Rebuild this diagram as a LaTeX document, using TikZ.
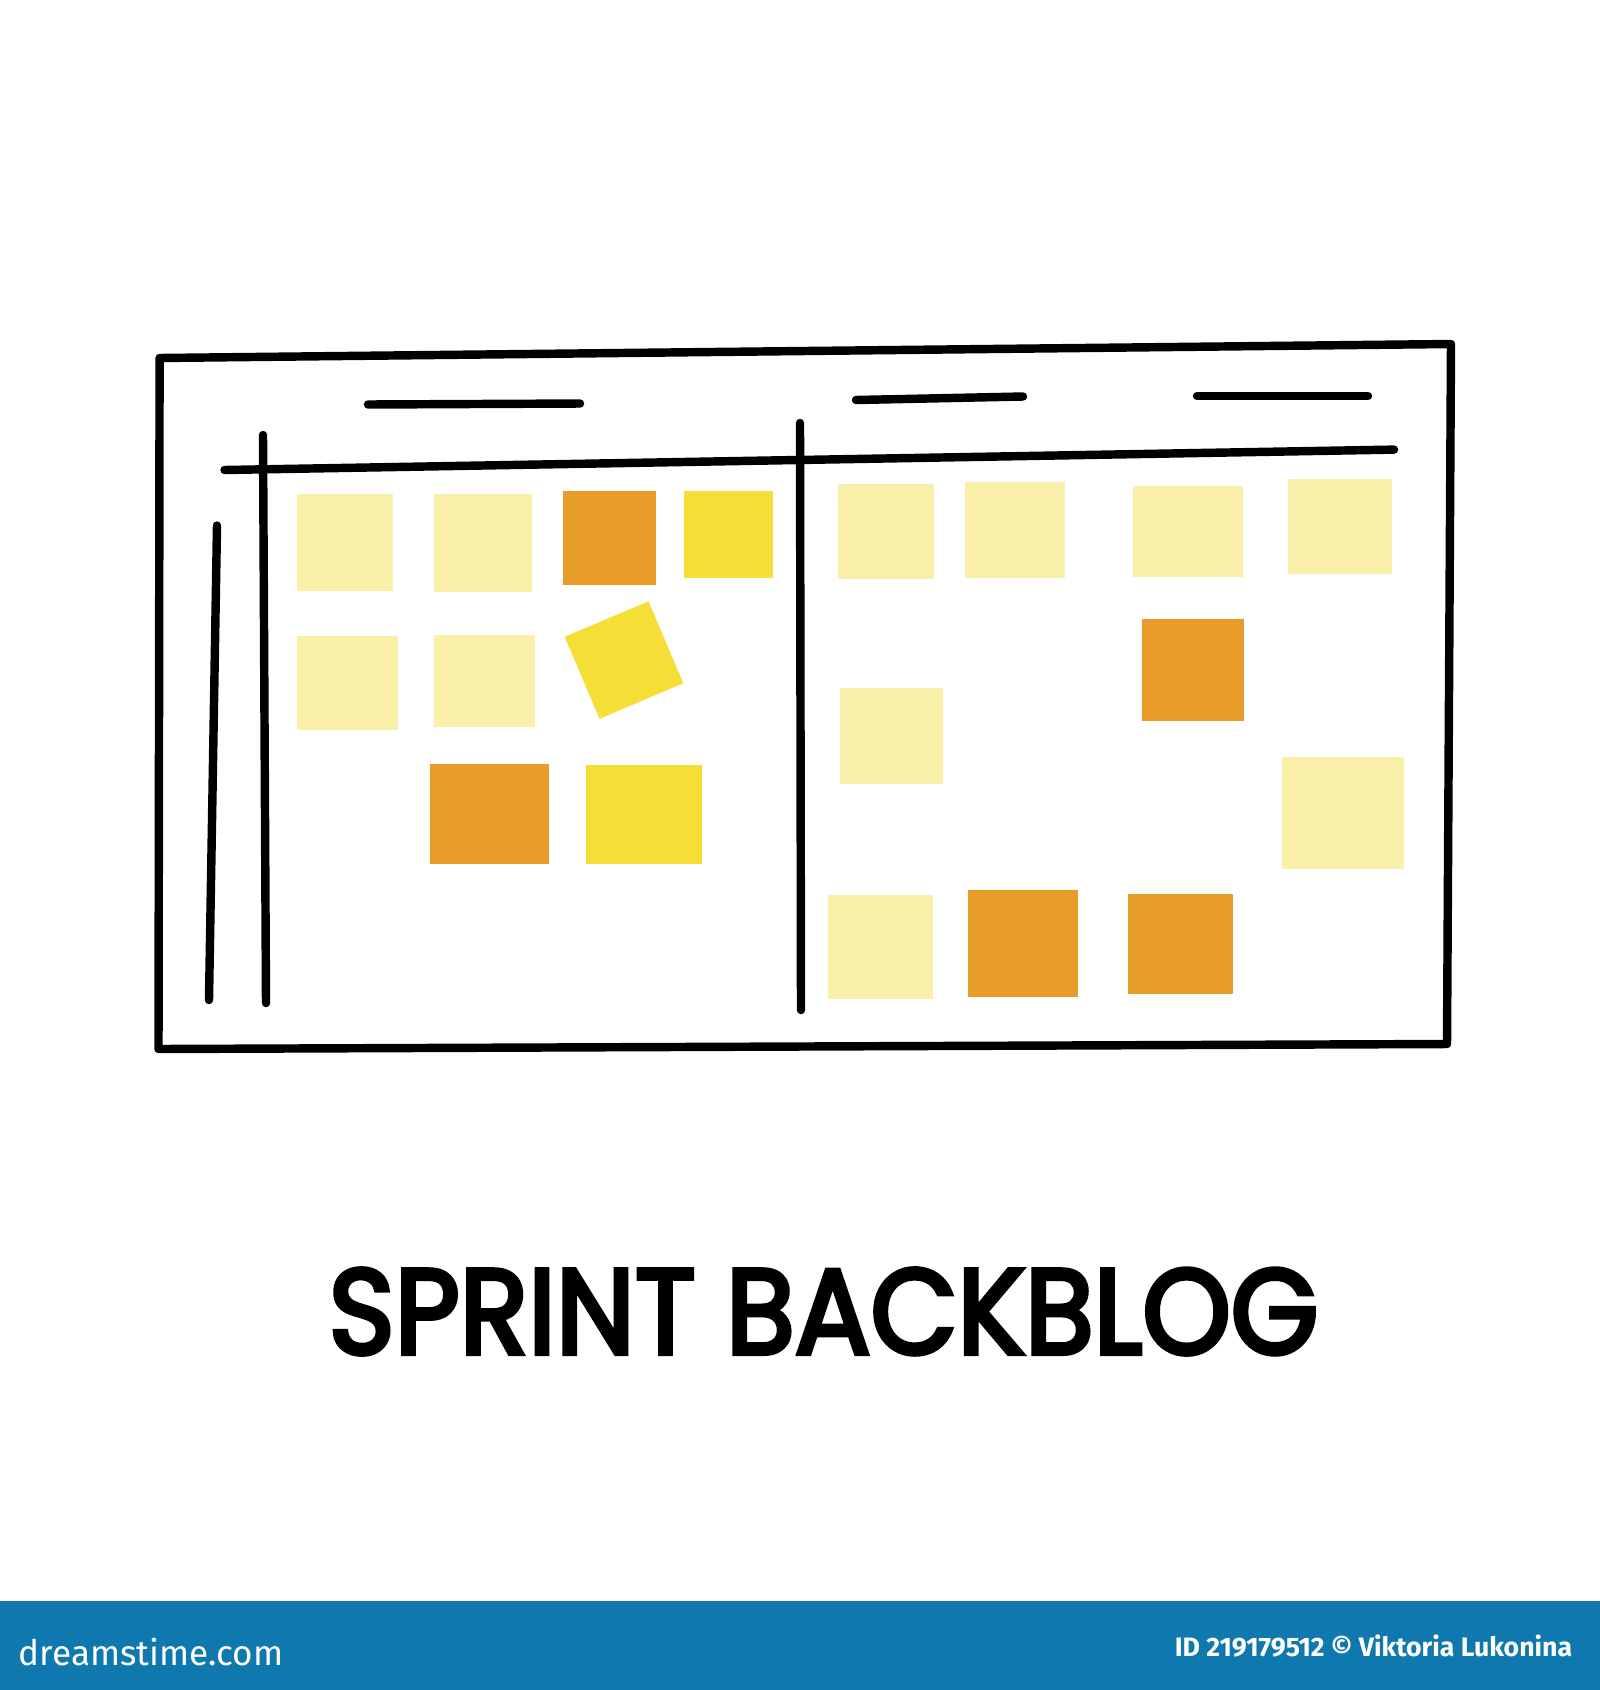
\documentclass[tikz,border=0pt]{standalone}
\usepackage{fontspec}
\setsansfont{Poppins}
\newfontfamily\titlefont{Poppins}[FakeBold=4]
\newfontfamily\barfont{Fira Sans}
\usetikzlibrary{positioning}
\definecolor{pale}{HTML}{FAF0A9}
\definecolor{amber}{HTML}{E89C2A}
\definecolor{lemon}{HTML}{F5DE35}
\definecolor{barblue}{HTML}{0F78AF}

\begin{document}
\begin{tikzpicture}[x=0.01cm,y=-0.01cm,
    pen/.style={line width=2.4pt,line cap=round,line join=round},
    note/.style={rectangle,inner sep=0pt,outer sep=0pt,draw=none}]
\useasboundingbox (0,0) rectangle (1600,1690);

% board
\coordinate (tl) at (159.6,358);
\coordinate (tr) at (1451,344);
\coordinate (br) at (1447,1044);
\coordinate (bl) at (158.5,1049);
\draw[pen] (tl) -- (tr) -- (br) -- (bl) -- cycle;

% column headings
\coordinate (h1a) at (368,404.5);  \coordinate (h1b) at (580,403.5);
\coordinate (h2a) at (856,400);    \coordinate (h2b) at (1023,396.5);
\coordinate (h3a) at (1197,396);   \coordinate (h3b) at (1368,396);
\draw[pen] (h1a) -- (h1b);
\draw[pen] (h2a) -- (h2b);
\draw[pen] (h3a) -- (h3b);

% grid lines
\coordinate (rowa) at (224.5,470);  \coordinate (rowb) at (1394,449.6);
\coordinate (cola) at (263,435);    \coordinate (colb) at (266,1003);
\coordinate (sidea) at (217,525.5); \coordinate (sideb) at (209,1000);
\coordinate (diva) at (800,423);    \coordinate (divb) at (801,1010);
\draw[pen] (rowa) -- (rowb);
\draw[pen] (cola) -- (colb);
\draw[pen] (sidea) -- (sideb);
\draw[pen] (diva) -- (divb);

% sticky notes, left part
\node[note,fill=pale, minimum width=.96cm,minimum height=.97cm] (n1) at (345,542.5) {};
\node[note,fill=pale, minimum width=.98cm,minimum height=.98cm] (n2) at (483,543) {};
\node[note,fill=amber,minimum width=.93cm,minimum height=.93cm] (n3) at (609.5,538) {};
\node[note,fill=lemon,minimum width=.89cm,minimum height=.87cm] (n4) at (728.5,534.3) {};
\node[note,fill=pale, minimum width=1.01cm,minimum height=.94cm] (n5) at (347.5,683) {};
\node[note,fill=pale, minimum width=1.01cm,minimum height=.92cm] (n6) at (484.5,681) {};
\node[note,fill=lemon,minimum width=.91cm,minimum height=.89cm,rotate=23] (n7) at (624,660) {};
\node[note,fill=amber,minimum width=1.18cm,minimum height=1.00cm] (n8) at (489.5,814) {};
\node[note,fill=lemon,minimum width=1.16cm,minimum height=.99cm] (n9) at (643.8,814.5) {};

% sticky notes, right part
\node[note,fill=pale, minimum width=.96cm,minimum height=.95cm] (n10) at (886,531.3) {};
\node[note,fill=pale, minimum width=1.00cm,minimum height=.96cm] (n11) at (1015,530) {};
\node[note,fill=pale, minimum width=1.10cm,minimum height=.91cm] (n12) at (1188,531.5) {};
\node[note,fill=pale, minimum width=1.04cm,minimum height=.95cm] (n13) at (1339.6,526.5) {};
\node[note,fill=amber,minimum width=1.02cm,minimum height=1.02cm] (n14) at (1193.3,669.8) {};
\node[note,fill=pale, minimum width=1.03cm,minimum height=.96cm] (n15) at (891.5,736.3) {};
\node[note,fill=pale, minimum width=1.22cm,minimum height=1.12cm] (n16) at (1342.8,813) {};
\node[note,fill=pale, minimum width=1.05cm,minimum height=1.04cm] (n17) at (880.5,947) {};
\node[note,fill=amber,minimum width=1.10cm,minimum height=1.07cm] (n18) at (1023,943.3) {};
\node[note,fill=amber,minimum width=1.05cm,minimum height=.99cm] (n19) at (1180.5,944) {};

% caption
\node[inner sep=0pt] (title) at (823.5,1311.5)
    {\resizebox{9.89cm}{0.85cm}{\titlefont SPRINT BACKBLOG}};

% footer strip
\fill[barblue] (0,1601) rectangle (1600,1690);
\node[inner sep=0pt,text=white] (logo) at (151,1652)
    {\resizebox{2.64cm}{!}{\barfont dreamstime.com}};
\node[inner sep=0pt,text=white] (credit) at (1373.5,1646)
    {\resizebox{3.97cm}{!}{\barfont\bfseries ID 219179512 © Viktoria Lukonina}};
\end{tikzpicture}
\end{document}
